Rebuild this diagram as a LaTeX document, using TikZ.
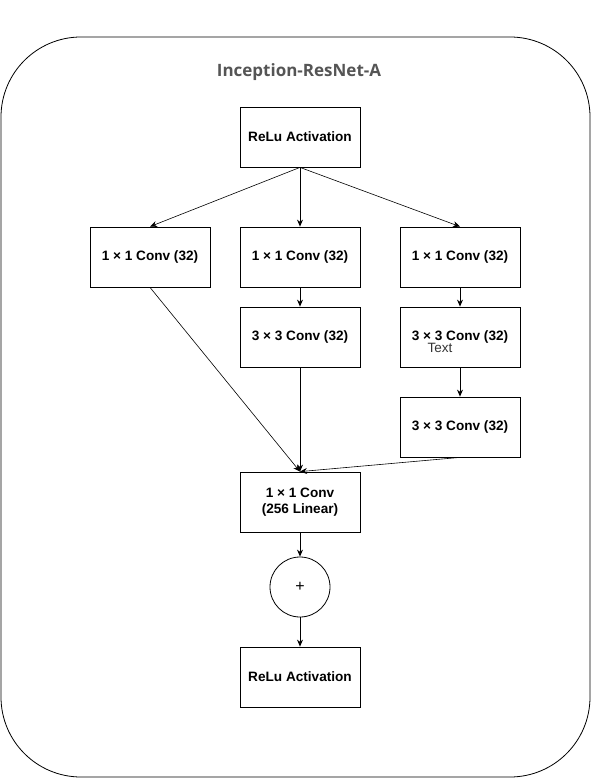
\documentclass[tikz,border=0pt]{standalone}
\usepackage{fontspec}
\setmainfont{Liberation Sans}
\newfontfamily\titlefont{Open Sans}
\usetikzlibrary{arrows.meta}
\definecolor{titlegray}{HTML}{555555}
\definecolor{textgray}{HTML}{333333}
\begin{document}
\begin{tikzpicture}[x=1pt,y=-1pt,
  blk/.style={draw,line width=0.8pt,minimum width=120pt,minimum height=60pt,inner sep=0pt,align=center,font=\fontsize{13.6}{16}\selectfont\bfseries},
  conn/.style={line width=0.8pt,-{Stealth[length=7pt,width=6pt]}},
  thin conn/.style={line width=0.6pt,-{Stealth[length=7pt,width=6pt]}}]
\useasboundingbox (0,0) rectangle (591,778);
\draw[line width=0.8pt,rounded corners=80pt] (1,37) rectangle (590,777);
\node[font=\titlefont\fontsize{17}{20}\selectfont\bfseries,text=titlegray] (title) at (299,72) {Inception-ResNet-A};
\node[blk] (relu1) at (300,137) {ReLu Activation};
\node[blk] (l1) at (150,257) {1 × 1 Conv (32)};
\node[blk] (m1) at (300,257) {1 × 1 Conv (32)};
\node[blk] (r1) at (460,257) {1 × 1 Conv (32)};
\node[blk] (m2) at (300,337) {3 × 3 Conv (32)};
\node[blk] (r2) at (460,337) {3 × 3 Conv (32)};
\node[blk] (r3) at (460,427) {3 × 3 Conv (32)};
\node[blk] (merge) at (300,502) {1 × 1 Conv\\(256 Linear)};
\node[draw,circle,line width=0.8pt,minimum size=60pt,inner sep=0pt,font=\fontsize{16}{18}\selectfont] (plus) at (300,587) {+};
\node[text=textgray,font=\fontsize{13.5}{15}\selectfont] (lbl) at (440,348) {Text};
\node[blk] (relu2) at (300,677) {ReLu Activation};
\draw[thin conn] (relu1.south) -- (l1.north);
\draw[conn] (relu1.south) -- (m1.north);
\draw[thin conn] (relu1.south) -- (r1.north);
\draw[conn] (m1.south) -- (m2.north);
\draw[conn] (r1.south) -- (r2.north);
\draw[conn] (r2.south) -- (r3.north);
\draw[thin conn] (l1.south) -- (merge.north);
\draw[conn] (m2.south) -- (merge.north);
\draw[thin conn] (r3.south) -- (merge.north);
\draw[conn] (merge.south) -- (plus.north);
\draw[conn] (plus.south) -- (relu2.north);
\end{tikzpicture}
\end{document}
